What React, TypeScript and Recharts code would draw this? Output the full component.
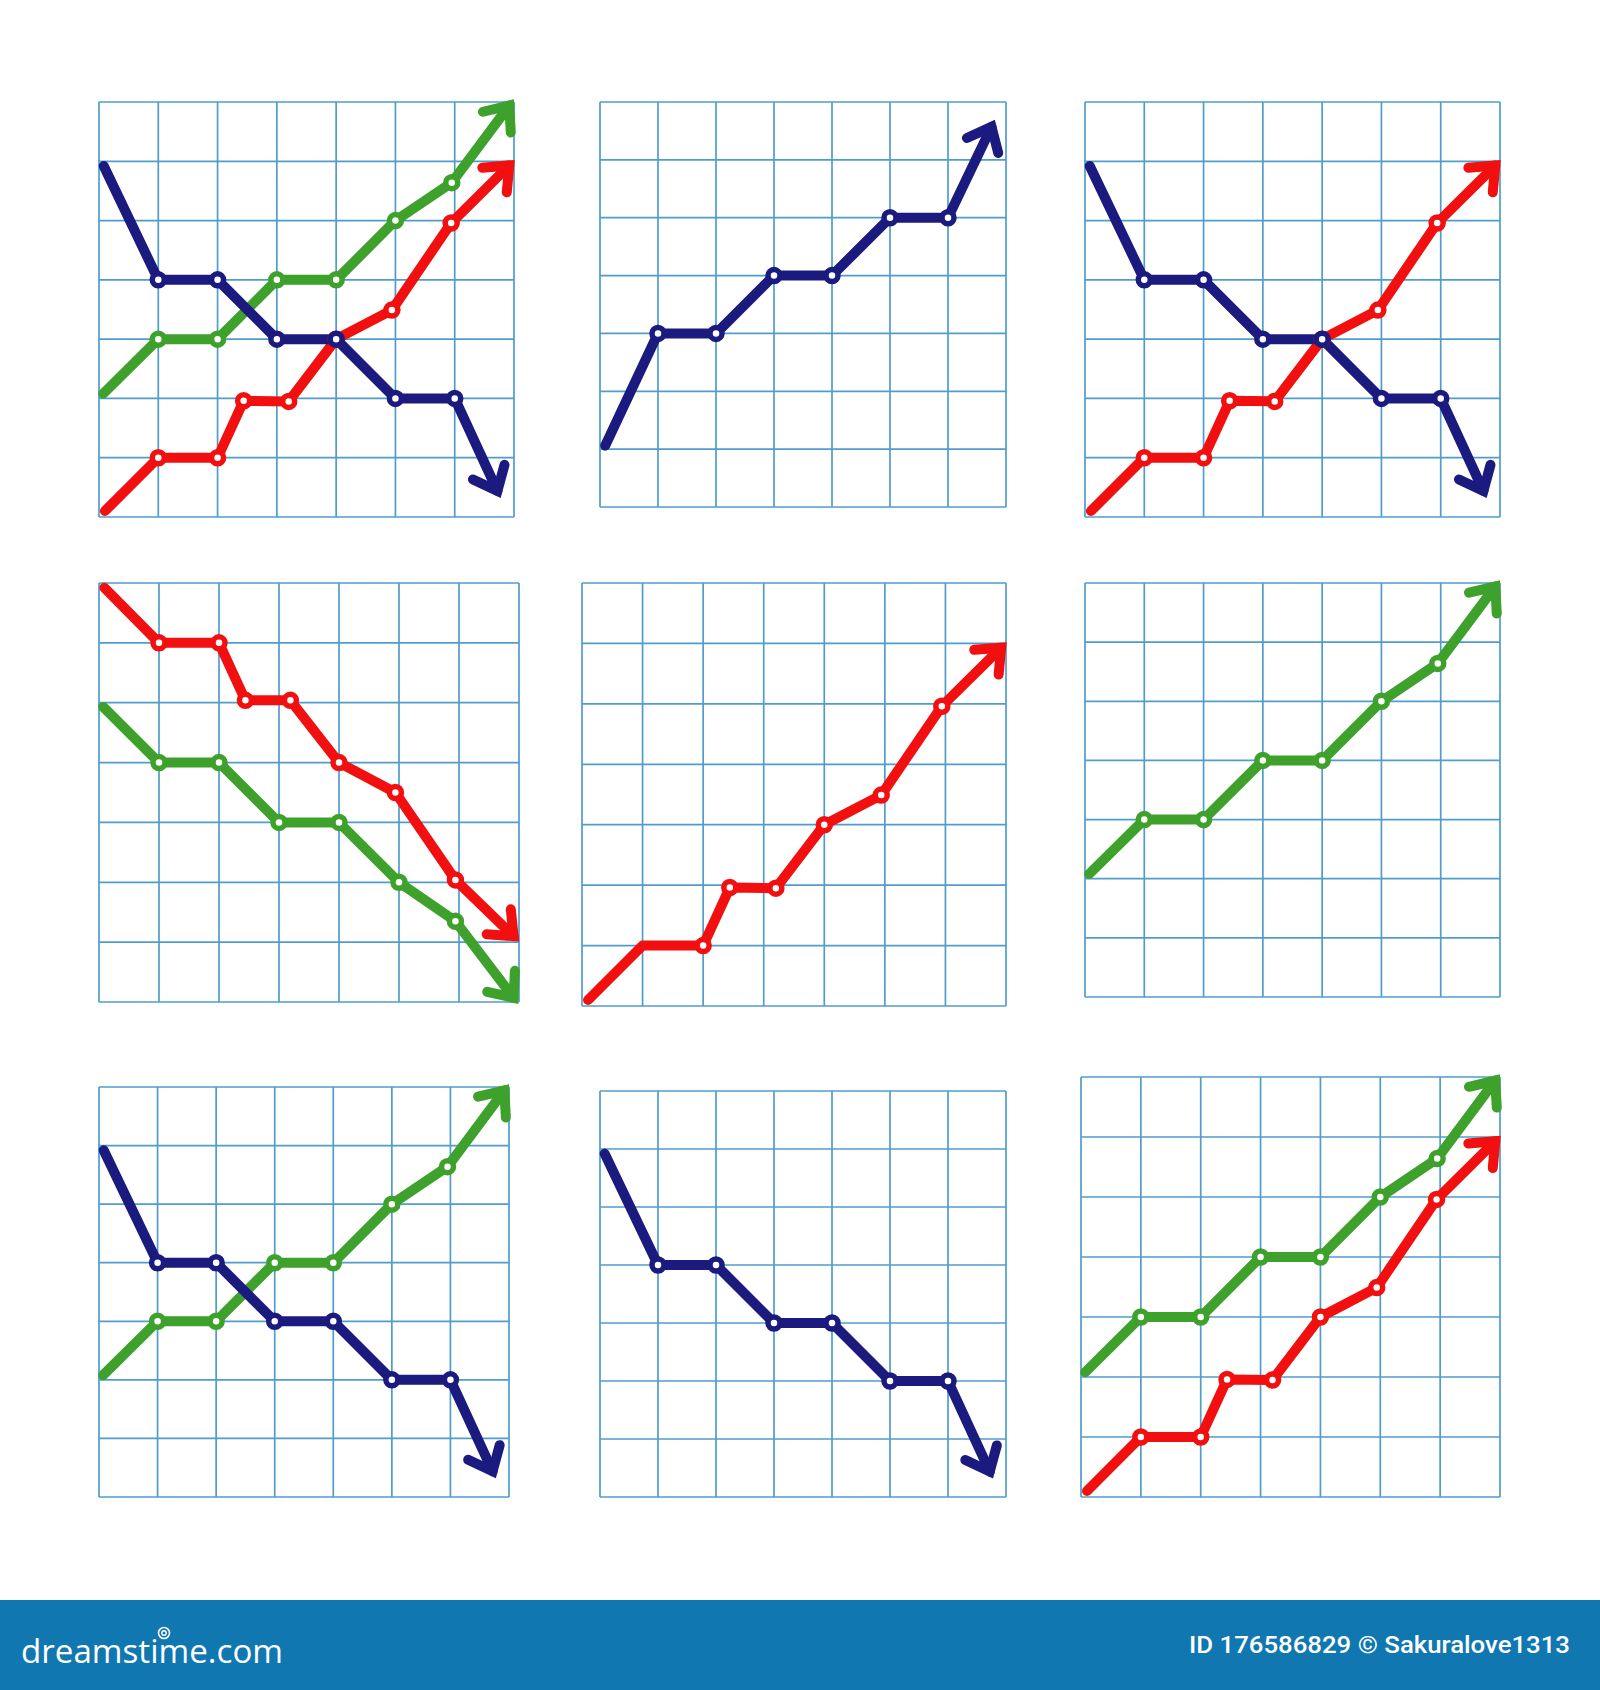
import { CartesianGrid, Line, LineChart, XAxis, YAxis } from "recharts";

// every panel is a 7 x 7 grid, values are in grid units (0,0 = bottom left)
const gridTicks = [0, 1, 2, 3, 4, 5, 6, 7];

const navyDownX = [0.08, 1, 2, 3, 4, 5, 6, 6.72];
const navyDownY = [5.92, 4, 4, 3, 3, 2, 2, 0.44];
const navyUpX = [0.09, 1, 2, 3, 4, 5, 6, 6.75];
const navyUpY = [1.06, 3, 3, 4, 4, 5, 5, 6.57];
const greenUpX = [0.07, 1, 2, 3, 4, 5, 5.95, 6.92];
const greenUpY = [2.08, 3, 3, 4, 4, 5, 5.64, 6.94];
const greenDownX = [0.07, 1, 2, 3, 4, 5, 5.94, 6.91];
const greenDownY = [4.93, 4, 4, 3, 3, 2, 1.35, 0.07];
const redUpX = [0.1, 1, 2, 2.44, 3.2, 4, 4.94, 5.94, 6.92];
const redUpY = [0.1, 1, 1, 1.96, 1.95, 3, 3.49, 4.96, 5.93];
const redDownX = [0.09, 1, 2, 2.44, 3.19, 4, 4.94, 5.94, 6.91];
const redDownY = [6.92, 6, 6, 5.04, 5.04, 4, 3.5, 2.04, 1.1];

const NAVY = "#1b1a7e";
const RED = "#f20f0f";
const GREEN = "#3da12c";
const GRID = "#4f9dcb";
const FOOTER = "#1077b0";

const LINE_W = 10;
const HEAD_LEN = 27;
const HEAD_ANGLE = (40 * Math.PI) / 180;

type Series = {
  name: string;
  xs: number[];
  ys: number[];
  color: string;
  noMarker?: number[];
};

const navyDown: Series = { name: "navyDown", xs: navyDownX, ys: navyDownY, color: NAVY };
const navyUp: Series = { name: "navyUp", xs: navyUpX, ys: navyUpY, color: NAVY };
const greenUp: Series = { name: "greenUp", xs: greenUpX, ys: greenUpY, color: GREEN };
const greenDown: Series = { name: "greenDown", xs: greenDownX, ys: greenDownY, color: GREEN };
const redUp: Series = { name: "redUp", xs: redUpX, ys: redUpY, color: RED };
const redUpBare: Series = { ...redUp, noMarker: [1] };
const redDown: Series = { name: "redDown", xs: redDownX, ys: redDownY, color: RED };

const panels = [
  { left: 99, top: 102, w: 415, h: 415, series: [greenUp, redUp, navyDown] },
  { left: 600, top: 102, w: 406, h: 405, series: [navyUp] },
  { left: 1085, top: 102, w: 415, h: 415, series: [redUp, navyDown] },
  { left: 99, top: 583, w: 420, h: 419, series: [greenDown, redDown] },
  { left: 582, top: 583, w: 424, h: 423, series: [redUpBare] },
  { left: 1085, top: 583, w: 415, h: 414, series: [greenUp] },
  { left: 99, top: 1087, w: 410, h: 410, series: [greenUp, navyDown] },
  { left: 600, top: 1091, w: 406, h: 406, series: [navyDown] },
  { left: 1081, top: 1077, w: 419, h: 420, series: [redUp, greenUp] },
];

const PAD = 18;

function makeDot(s: Series, pw: number, ph: number) {
  const last = s.xs.length - 1;
  return (props: any) => {
    const { cx, cy, index, points } = props;
    const key = `${s.name}-dot-${index}`;
    if (cx == null || cy == null) return <g key={key} />;
    if (index === last) {
      let dx: number;
      let dy: number;
      const prev = points?.[index - 1];
      if (prev && prev.x != null && prev.y != null) {
        dx = cx - prev.x;
        dy = cy - prev.y;
      } else {
        dx = ((s.xs[index] - s.xs[index - 1]) * pw) / 7;
        dy = (-(s.ys[index] - s.ys[index - 1]) * ph) / 7;
      }
      const back = Math.atan2(-dy, -dx);
      const a1 = back + HEAD_ANGLE;
      const a2 = back - HEAD_ANGLE;
      const d = `M${cx + HEAD_LEN * Math.cos(a1)},${cy + HEAD_LEN * Math.sin(a1)} L${cx},${cy} L${
        cx + HEAD_LEN * Math.cos(a2)
      },${cy + HEAD_LEN * Math.sin(a2)}`;
      return (
        <path
          key={key}
          d={d}
          fill="none"
          stroke={s.color}
          strokeWidth={LINE_W}
          strokeLinecap="round"
          strokeLinejoin="miter"
        />
      );
    }
    if (index === 0 || s.noMarker?.includes(index)) return <g key={key} />;
    return <circle key={key} cx={cx} cy={cy} r={6} fill="#fff" stroke={s.color} strokeWidth={5.5} />;
  };
}

function Panel({ left, top, w, h, series }: (typeof panels)[number]) {
  return (
    <div style={{ position: "absolute", left: left - PAD, top: top - PAD }}>
      <LineChart width={w + PAD * 2} height={h + PAD * 2} margin={{ top: PAD, right: PAD, bottom: PAD, left: PAD }}>
        <CartesianGrid stroke={GRID} strokeWidth={1.7} />
        <XAxis type="number" dataKey="x" domain={[0, 7]} ticks={gridTicks} hide />
        <YAxis type="number" domain={[0, 7]} ticks={gridTicks} hide />
        {series.map((s) => (
          <Line
            key={s.name}
            data={s.xs.map((x, i) => ({ x, [s.name]: s.ys[i] }))}
            dataKey={s.name}
            type="linear"
            stroke={s.color}
            strokeWidth={LINE_W}
            strokeLinecap="round"
            strokeLinejoin="round"
            dot={makeDot(s, w, h)}
            activeDot={false}
            isAnimationActive={false}
          />
        ))}
      </LineChart>
    </div>
  );
}

export default function App() {
  return (
    <div
      style={{
        position: "absolute",
        left: 0,
        top: 0,
        width: 1600,
        height: 1690,
        background: "#fff",
        overflow: "hidden",
      }}
    >
      {panels.map((p, i) => (
        <Panel key={i} {...p} />
      ))}
      <svg width={1600} height={90} style={{ position: "absolute", left: 0, top: 1600, display: "block" }}>
        <rect x={0} y={0} width={1600} height={90} fill={FOOTER} />
        <circle cx={164} cy={33} r={5.5} fill="none" stroke="#fff" strokeWidth={1.6} />
        <circle cx={164} cy={33} r={2.2} fill="none" stroke="#fff" strokeWidth={1.4} />
        <text
          x={21}
          y={63}
          fill="#fff"
          fontFamily="'Open Sans', 'DejaVu Sans', sans-serif"
          fontSize={32}
          textLength={262}
          lengthAdjust="spacingAndGlyphs"
        >
          dreamstime.com
        </text>
        <text
          x={1189}
          y={53}
          fill="#fff"
          fontFamily="Roboto, 'DejaVu Sans', sans-serif"
          fontWeight={500}
          fontSize={24}
          textLength={381}
          lengthAdjust="spacingAndGlyphs"
        >
          ID 176586829 © Sakuralove1313
        </text>
      </svg>
    </div>
  );
}
